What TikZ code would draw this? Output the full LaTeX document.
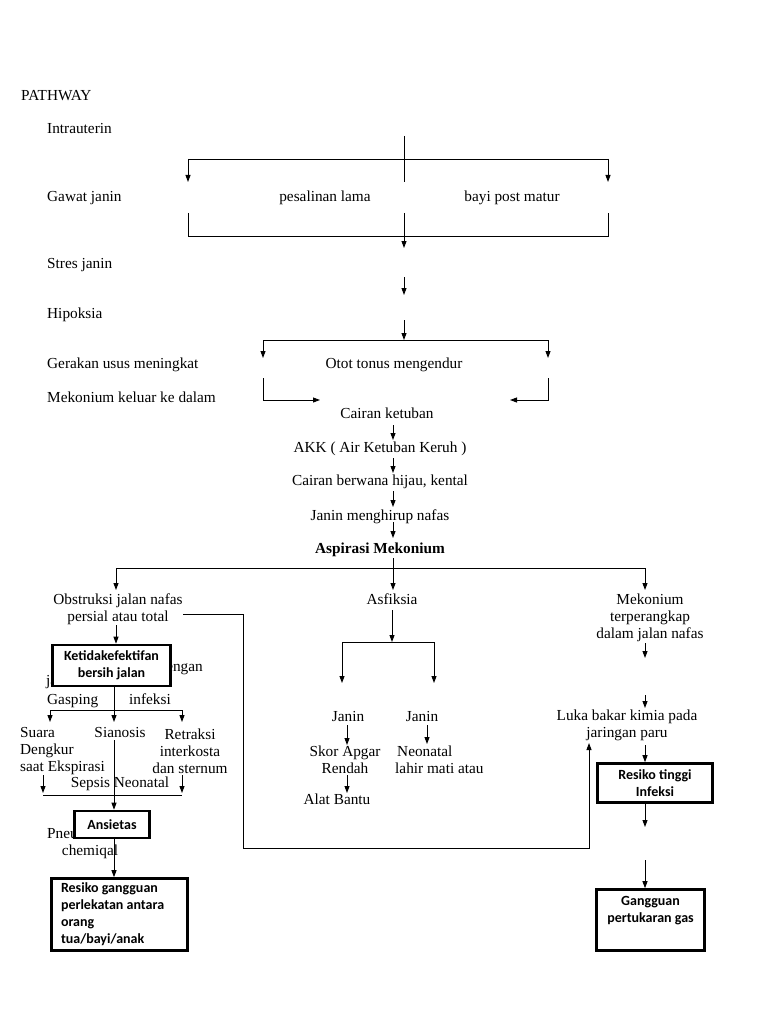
\documentclass[tikz,border=0pt]{standalone}
\usepackage{fontspec}
\setmainfont{Liberation Serif}
\newfontfamily\boxfont{Carlito}
\usetikzlibrary{arrows.meta}
\begin{document}
\begin{tikzpicture}[x=1pt,y=-1pt,
  txt/.style={font=\fontsize{15.3}{17}\selectfont, inner sep=0pt, text height=10pt, text depth=3pt},
  ml/.style={font=\fontsize{15.3}{17}\selectfont, inner sep=0pt, align=center},
  bx/.style={draw, line width=2.6pt, fill=white, font=\boxfont\bfseries\fontsize{14}{17}\selectfont, align=center, inner sep=0pt},
  ln/.style={line width=0.9pt, draw=black},
  ar/.style={ln, -{Triangle[length=7pt,width=5pt]}},
]
\useasboundingbox[fill=white] (0,0) rectangle (768,1024);

% ---- top left labels
\node[txt, anchor=west] (pathway) at (21,97) {PATHWAY};
\node[txt, anchor=west] (intra) at (47,130) {Intrauterin};
\node[txt, anchor=west] (gawat) at (47,198) {Gawat janin};
\node[txt] (pesalinan) at (325,198) {pesalinan lama};
\node[txt] (bayi) at (512,198) {bayi post matur};
\node[txt, anchor=west] (stres) at (47,265) {Stres janin};
\node[txt, anchor=west] (hipoksia) at (47,315) {Hipoksia};
\node[txt, anchor=west] (gerakan) at (47,365) {Gerakan usus meningkat};
\node[txt] (otot) at (394,365) {Otot tonus mengendur};
\node[txt, anchor=west] (keluar) at (47,399) {Mekonium keluar ke dalam};
\node[txt] (ketuban) at (387,415) {Cairan ketuban};
\node[txt] (akk) at (380,449) {AKK ( Air Ketuban Keruh )};
\node[txt] (hijau) at (380,482) {Cairan berwana hijau, kental};
\node[txt] (menghirup) at (380,517) {Janin menghirup nafas};
\node[txt, font=\bfseries\fontsize{15.3}{17}\selectfont] (aspirasi) at (380,550) {Aspirasi Mekonium};

% ---- top connectors
\coordinate (t0) at (404,136);
\coordinate (t1) at (404,182);
\coordinate (tl) at (188,159);
\coordinate (tr) at (608,159);
\draw[ln] (t0) -- (t1);
\draw[ln] (tl) -- (tr);
\draw[ar] (tl) -- (188,182);
\draw[ar] (tr) -- (608,182);

\coordinate (bl) at (188,213);
\coordinate (br) at (608,213);
\draw[ln] (bl) -- (188,236) -- (608,236) -- (br);
\draw[ar] (404,213) -- (404,248);
\draw[ar] (404,277) -- (404,295);
\draw[ar] (404,320) -- (404,340);
\draw[ln] (263,340) -- (548,340);
\draw[ar] (263,340) -- (263,358);
\draw[ar] (548,340) -- (548,358);
\draw[ar] (263,378) -- (263,400) -- (320,400);
\draw[ar] (548,378) -- (548,400) -- (510,400);

\draw[ar] (393,425) -- (393,440);
\draw[ar] (393,458) -- (393,473);
\draw[ar] (393,491) -- (393,507);
\draw[ar] (393,522) -- (393,538);
\draw[ln] (393,558) -- (393,568);
\draw[ln] (116,568) -- (645,568);
\draw[ar] (116,568) -- (116,590);
\draw[ar] (393,568) -- (393,590);
\draw[ar] (645,568) -- (645,590);

% ---- second level
\node[ml] (obstruksi) at (118,609) {Obstruksi jalan nafas\\persial atau total};
\node[txt] (asfiksia) at (392,601) {Asfiksia};
\node[ml] (terperangkap) at (650,618) {Mekonium\\terperangkap\\dalam jalan nafas};

% hidden texts behind boxes
\node[txt, anchor=east] (dengan) at (203,668) {dengan};
\node[txt, anchor=west] (jalan) at (46,682) {jalan nafas};
\node[txt, anchor=west] (pneu) at (47,835) {Pneumonia};
\node[txt] (chemiqal) at (90,852) {chemiqal};

% boxes
\node[bx, minimum width=118pt, minimum height=41pt] (k1) at (111.5,665.5) {Ketidakefektifan\\bersih jalan};
\node[bx, minimum width=75pt, minimum height=27pt] (ansietas) at (112,824.5) {Ansietas};
\node[bx, minimum width=136pt, minimum height=72pt, text width=117pt, align=flush left] (resiko) at (119.5,914.5) {Resiko gangguan\\perlekatan antara\\orang\\tua/bayi/anak};
\node[bx, minimum width=115pt, minimum height=39pt] (rt) at (655,783) {Resiko tinggi\\Infeksi};
\node[bx, minimum width=108pt, minimum height=61pt] (gg) at (650.5,920) {Gangguan\\pertukaran gas\\\strut};

% left branch texts
\node[txt, anchor=west] (gasping) at (47,701) {Gasping};
\node[txt, anchor=west] (infeksi) at (129,701) {infeksi};
\node[ml, align=left, anchor=west] (suara) at (20,751) {Suara\\Dengkur\\saat Ekspirasi};
\node[txt] (sianosis) at (120,734) {Sianosis};
\node[ml] (retraksi) at (190,751) {Retraksi\\interkosta\\dan sternum};
\node[txt] (sepsis) at (120,784) {Sepsis Neonatal};

% left branch connectors
\draw[ar] (116,625) -- (k1.north -| 116,0);
\draw[ar] (k1.south -| 114,0) -- (114,722);
\draw[ln] (50,710) -- (182,710);
\draw[ar] (50,710) -- (50,722);
\draw[ar] (182,710) -- (182,722);
\draw[ar] (43,775) -- (43,793);
\draw[ar] (182,775) -- (182,793);
\draw[ln] (43,795) -- (182,795);
\draw[ar] (114,740) -- (ansietas.north -| 114,0);
\draw[ar] (ansietas.south -| 114,0) -- (resiko.north -| 114,0);

% long connector from obstruksi to luka bakar
\coordinate (o1) at (183,614);
\draw[ar] (o1) -- (243,614) -- (243,848) -- (589,848) -- (589,743);

% middle branch
\draw[ar] (392,610) -- (392,642);
\draw[ln] (342,642) -- (434,642);
\draw[ar] (342,642) -- (342,683);
\draw[ar] (434,642) -- (434,683);
\node[txt] (janin1) at (348,718) {Janin};
\node[txt] (janin2) at (422,718) {Janin};
\node[ml] (apgar) at (345,759.5) {Skor Apgar\\Rendah};
\node[ml, align=left, anchor=west] (neonatal) at (395,759.5) {\hspace{2pt}Neonatal\\lahir mati atau};
\node[txt] (alat) at (337,801) {Alat Bantu};
\draw[ar] (347,725) -- (347,745);
\draw[ar] (427,725) -- (427,744);
\draw[ar] (347,775) -- (347,793);

% right branch
\draw[ar] (645,643) -- (645,658);
\draw[ar] (645,695) -- (645,708);
\node[ml] (luka) at (627,725.5) {Luka bakar kimia pada\\jaringan paru};
\draw[ar] (645,745) -- (rt.north -| 645,0);
\draw[ar] (rt.south -| 645,0) -- (645,827);
\draw[ar] (645,860) -- (gg.north -| 645,0);
\end{tikzpicture}
\end{document}
